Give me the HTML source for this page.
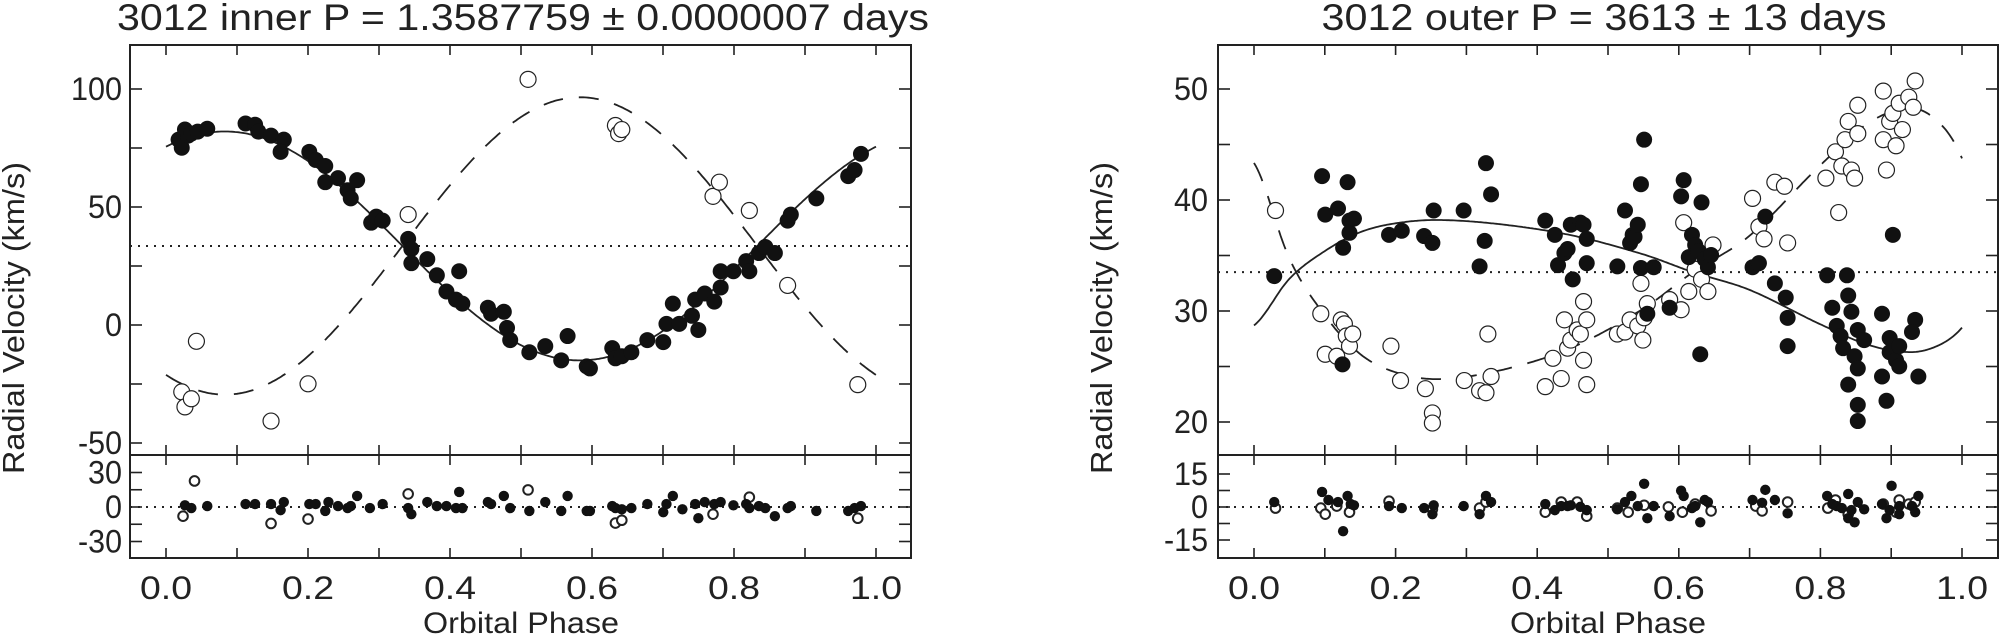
<!DOCTYPE html>
<html><head><meta charset="utf-8"><style>
html,body{margin:0;padding:0;background:#fff;}
svg{display:block;}
text{font-family:"Liberation Sans",sans-serif;fill:#222;}
</style></head><body>
<svg id="s" width="2001" height="635" viewBox="0 0 2001 635" xmlns="http://www.w3.org/2000/svg">
<rect width="2001" height="635" fill="#fff"/>
<text x="523" y="30" font-size="37" text-anchor="middle" textLength="812" lengthAdjust="spacingAndGlyphs">3012 inner  P = 1.3587759 ± 0.0000007 days</text>
<text x="1604" y="30" font-size="37" text-anchor="middle" textLength="565" lengthAdjust="spacingAndGlyphs">3012 outer  P = 3613 ± 13 days</text>
<text transform="translate(24,318) rotate(-90)" font-size="31" text-anchor="middle" textLength="312" lengthAdjust="spacingAndGlyphs">Radial Velocity (km/s)</text>
<text transform="translate(1112,318) rotate(-90)" font-size="31" text-anchor="middle" textLength="312" lengthAdjust="spacingAndGlyphs">Radial Velocity (km/s)</text>
<text x="521" y="633" font-size="30" text-anchor="middle" textLength="196" lengthAdjust="spacingAndGlyphs">Orbital Phase</text>
<text x="1608" y="633" font-size="30" text-anchor="middle" textLength="196" lengthAdjust="spacingAndGlyphs">Orbital Phase</text>
<g id="g"></g>
</svg>
<script>
var NS="http://www.w3.org/2000/svg",G=document.getElementById('g');
function el(t,a,txt){var e=document.createElementNS(NS,t);for(var k in a)e.setAttribute(k,a[k]);if(txt!==undefined)e.textContent=txt;G.appendChild(e);return e;}
function line(x1,y1,x2,y2,w,da){var a={x1:x1,y1:y1,x2:x2,y2:y2,stroke:'#222','stroke-width':w||2};if(da)a['stroke-dasharray']=da;el('line',a);}
function txt(x,y,s,anc,fs,len){var a={x:x,y:y,'font-size':fs||29,'text-anchor':anc||'middle'};if(len){a.textLength=len;a.lengthAdjust='spacingAndGlyphs';}el('text',a,s);}
function panel(P){
 var L=P.L,R=P.R,T=45,D=455,B=558;
 el('rect',{x:L,y:T,width:R-L,height:B-T,fill:'none',stroke:'#222','stroke-width':2});
 line(L,D,R,D,2);
 var X=function(p){return P.x0+p*P.xs;};
 for(var i=0;i<=10;i++){var x=X(i/10),len=10;
  [[T,1],[D,-1],[D,1],[B,-1]].forEach(function(q){line(x,q[0],x,q[0]+q[1]*len,1.6);});
  if(i%2==0)txt(x,599,(i/10).toFixed(1),'middle',32,52);}
 function lw(s){var w=0;for(var c of s){w+=(c=='-')?10:17;}return w;}
 P.yt.forEach(function(t){var y=P.Y(t[0]);line(L,y,L+12,y,1.6);line(R,y,R-12,y,1.6);if(t[1])txt(P.lx,y+11,t[1],'end',32,lw(t[1]));});
 P.rt.forEach(function(t){var y=P.RY(t[0]);line(L,y,L+12,y,1.6);line(R,y,R-12,y,1.6);if(t[1])txt(P.lx,y+11,t[1],'end',32,lw(t[1]));});
 line(L,P.Y(P.g),R,P.Y(P.g),2,'2,6');
 line(L,P.RY(0),R,P.RY(0),2,'2,6');
 var s='',d='';for(var k=0;k<=400;k++){var p=k/400;s+=(k?'L':'M')+X(p).toFixed(1)+','+P.Y(P.c1(p)).toFixed(1);d+=(k?'L':'M')+X(p).toFixed(1)+','+P.Y(P.c2(p)).toFixed(1);}
 el('path',{d:s,fill:'none',stroke:'#222','stroke-width':1.8});
 el('path',{d:d,fill:'none',stroke:'#222','stroke-width':1.8,'stroke-dasharray':'20,16'});
 var ox=P.ox;
 P.op.forEach(function(q){el('circle',{cx:ox+q[0]/1.568,cy:q[1]/2.47,r:8,fill:'#fff',stroke:'#222','stroke-width':1.2});});
 P.fp.forEach(function(q){el('circle',{cx:ox+q[0]/1.568,cy:q[1]/2.47,r:8,fill:'#111'});});
 P.ro.forEach(function(q){el('circle',{cx:ox+q[0]/1.568,cy:q[1]/2.47,r:4.8,fill:'#fff',stroke:'#222','stroke-width':2});});
 P.rf.forEach(function(q){el('circle',{cx:ox+q[0]/1.568,cy:q[1]/2.47,r:5.2,fill:'#111'});});
}
var TP=2*Math.PI;
panel({L:130,R:911,x0:166,xs:710,lx:122,g:33.5,ox:0,
 Y:function(v){return 325-2.36*v;},RY:function(v){return 507-1.15*v;},
 yt:[[-50,'-50'],[-25],[0,'0'],[25],[50,'50'],[75],[100,'100']],
 rt:[[-30,'-30'],[-15],[0,'0'],[15],[30,'30']],
 c1:function(p){return 33.5+48.5*Math.cos(TP*(p-0.083));},
 c2:function(p){return 33.5-63*Math.cos(TP*(p-0.083));},
 fp:[[280,345],[285,365],[290,320],[295,335],[300,330],[310,325],[325,318],[385,305],[400,308],[405,325],[425,335],[445,345],[440,375],[485,375],[495,395],[510,410],[510,450],[530,440],[545,470],[550,490],[560,445],[582,550],[590,535],[600,545],[640,590],[645,615],[645,650],[670,640],[685,680],[700,720],[715,740],[720,670],[725,750],[765,760],[770,775],[790,770],[795,810],[800,840],[830,870],[855,855],[880,890],[890,830],[920,905],[925,910],[960,860],[965,885],[975,880],[990,870],[1015,840],[1040,845],[1045,800],[1055,750],[1065,800],[1085,780],[1095,815],[1090,740],[1105,725],[1120,745],[1130,710],[1130,670],[1150,670],[1170,645],[1175,670],[1190,625],[1200,610],[1215,625],[1235,545],[1240,530],[1280,490],[1330,435],[1340,420],[1350,380]],
 op:[[285,968],[290,1005],[300,985],[308,843],[425,1040],[483,948],[640,530],[828,196],[965,310],[970,330],[975,320],[1118,485],[1128,450],[1175,520],[1235,705],[1345,950]],
 rf:[[290,1248],[300,1255],[325,1250],[385,1245],[400,1245],[425,1245],[440,1260],[445,1240],[485,1245],[495,1245],[510,1262],[515,1240],[530,1250],[545,1255],[550,1250],[560,1225],[580,1255],[600,1245],[640,1255],[645,1270],[670,1240],[685,1250],[700,1250],[715,1255],[720,1215],[725,1255],[765,1240],[770,1245],[790,1225],[800,1255],[830,1262],[855,1240],[880,1262],[890,1225],[920,1262],[925,1262],[960,1250],[965,1255],[975,1258],[990,1255],[1015,1245],[1040,1265],[1045,1245],[1055,1225],[1070,1258],[1090,1245],[1095,1280],[1105,1240],[1120,1245],[1130,1240],[1150,1248],[1170,1245],[1175,1255],[1190,1250],[1200,1255],[1215,1275],[1235,1255],[1240,1250],[1280,1262],[1330,1262],[1340,1255],[1350,1250]],
 ro:[[287,1275],[305,1188],[425,1293],[483,1282],[640,1220],[828,1210],[965,1292],[975,1285],[1118,1270],[1175,1228],[1345,1280]]
});
var fk=[[-0.07,-6.5],[0,-4.8],[0.05,-0.6],[0.1,1.9],[0.15,3.6],[0.2,4.4],[0.26,4.7],[0.35,4.3],[0.45,3.3],[0.55,1.6],[0.62,0],[0.7,-1.6],[0.8,-4.7],[0.87,-6.6],[0.93,-7.2],[0.97,-6.5],[1.0,-5],[1.05,-0.6]];
function f(p){for(var i=1;i<fk.length-2;i++){if(p<=fk[i+1][0]){var p0=fk[i-1],p1=fk[i],p2=fk[i+1],p3=fk[i+2],t=(p-p1[0])/(p2[0]-p1[0]);
 var m1=(p2[1]-p0[1])/(p2[0]-p0[0])*(p2[0]-p1[0]),m2=(p3[1]-p1[1])/(p3[0]-p1[0])*(p2[0]-p1[0]);
 var t2=t*t,t3=t2*t;return (2*t3-3*t2+1)*p1[1]+(t3-2*t2+t)*m1+(-2*t3+3*t2)*p2[1]+(t3-t2)*m2;}}return fk[fk.length-2][1];}
panel({L:1218,R:1998,x0:1254,xs:708,lx:1208,g:33.5,ox:1000,
 Y:function(v){return 422-11.1*(v-20);},RY:function(v){return 507-2.2*v;},
 yt:[[20,'20'],[25],[30,'30'],[35],[40,'40'],[45],[50,'50']],
 rt:[[-15,'-15'],[-7.5],[0,'0'],[7.5],[15,'15']],
 c1:function(p){return 33.5+f(p);},
 c2:function(p){return 33.5-2.05*f(p);},
 fp:[[430,682],[505,435],[510,530],[530,515],[538,612],[545,450],[548,545],[548,575],[555,540],[537,900],[610,580],[630,570],[665,583],[678,600],[680,520],[727,520],[752,658],[760,595],[762,403],[770,480],[855,545],[870,580],[875,655],[885,625],[890,615],[895,555],[898,690],[910,550],[915,555],[920,590],[920,650],[968,658],[980,520],[988,600],[992,580],[995,585],[1000,555],[1005,662],[1010,345],[1005,455],[1015,775],[1025,660],[1050,760],[1068,485],[1072,445],[1080,635],[1085,580],[1090,605],[1095,620],[1100,500],[1098,875],[1105,640],[1110,660],[1115,630],[1180,660],[1190,650],[1200,535],[1215,700],[1232,735],[1235,785],[1235,855],[1297,680],[1305,760],[1312,805],[1318,830],[1322,860],[1328,680],[1330,730],[1330,950],[1335,770],[1340,880],[1345,815],[1345,1040],[1345,1000],[1345,910],[1355,840],[1383,930],[1383,775],[1390,990],[1395,870],[1395,835],[1400,580],[1405,890],[1410,855],[1410,905],[1435,790],[1430,820],[1440,930]],
 op:[[432,520],[503,775],[510,875],[528,880],[535,790],[540,800],[543,830],[548,855],[553,825],[613,855],[628,940],[667,960],[678,1020],[678,1045],[728,940],[752,965],[762,970],[765,825],[770,930],[855,955],[867,885],[880,935],[885,790],[890,860],[895,840],[905,815],[910,825],[915,745],[920,790],[915,890],[920,950],[968,825],[980,820],[988,790],[1000,805],[1005,700],[1008,840],[1010,785],[1015,750],[1050,740],[1068,765],[1072,550],[1080,720],[1090,665],[1100,690],[1110,720],[1118,605],[1180,490],[1190,560],[1198,590],[1215,450],[1230,460],[1235,600],[1295,440],[1310,375],[1315,525],[1320,410],[1325,345],[1330,300],[1335,420],[1340,440],[1345,330],[1345,260],[1385,225],[1385,345],[1390,420],[1395,300],[1400,280],[1405,360],[1410,255],[1415,320],[1425,240],[1435,200],[1432,265]],
 rf:[[430,1240],[505,1215],[515,1235],[530,1240],[538,1312],[545,1225],[550,1245],[555,1248],[610,1250],[630,1255],[665,1255],[678,1270],[680,1248],[727,1250],[752,1270],[762,1225],[770,1240],[855,1245],[870,1260],[880,1250],[890,1250],[895,1248],[910,1252],[920,1260],[968,1258],[980,1240],[990,1225],[1000,1250],[1010,1195],[1015,1280],[1025,1250],[1050,1275],[1068,1212],[1072,1225],[1085,1255],[1090,1250],[1098,1290],[1105,1235],[1110,1240],[1180,1235],[1195,1242],[1200,1210],[1215,1235],[1235,1268],[1297,1225],[1305,1245],[1312,1250],[1320,1255],[1330,1220],[1330,1280],[1335,1260],[1340,1290],[1345,1240],[1355,1258],[1383,1245],[1390,1280],[1395,1260],[1398,1200],[1410,1250],[1410,1270],[1430,1250],[1435,1265],[1440,1225]],
 ro:[[432,1255],[503,1255],[510,1270],[528,1250],[548,1265],[610,1238],[678,1258],[752,1255],[762,1240],[855,1265],[880,1240],[905,1240],[920,1275],[968,1255],[985,1265],[1010,1248],[1048,1252],[1070,1265],[1090,1245],[1115,1262],[1185,1250],[1195,1262],[1235,1240],[1298,1255],[1310,1235],[1330,1270],[1385,1245],[1405,1265],[1410,1235],[1425,1245],[1435,1240]]
});
</script>
</body></html>
